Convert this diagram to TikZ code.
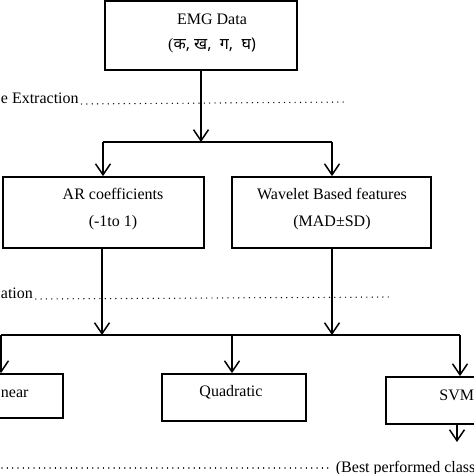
\documentclass[tikz,border=0pt]{standalone}
\usepackage{fontspec}
\setmainfont{Liberation Serif}
\newfontfamily\devfont[Script=Devanagari]{Noto Sans}
\usetikzlibrary{arrows.meta}
\begin{document}
\begin{tikzpicture}[x=1pt,y=-1pt,
  line width=1.8pt,
  box/.style={draw, line width=1.8pt, inner sep=0pt, rectangle},
  lbl/.style={font=\fontsize{16}{18}\selectfont, inner sep=0pt},
  arr/.style={-{Straight Barb[length=11pt,width=15pt,line width=1.5pt]}},
  dots/.style={line width=1.4pt, dash pattern=on 0.01pt off 5.33pt, line cap=round}]
\useasboundingbox (0,0) rectangle (474,474);
\clip (0,0) rectangle (474,474);

% boxes
\node[box, minimum width=192pt, minimum height=69pt] (emg) at (201,35.5) {};
\node[box, minimum width=201pt, minimum height=71pt] (ar) at (103.5,212.5) {};
\node[box, minimum width=199pt, minimum height=71pt] (wav) at (331.5,212.5) {};
\node[box, minimum width=143pt, minimum height=44pt] (lin) at (-8.5,396) {};
\node[box, minimum width=144pt, minimum height=47pt] (quad) at (234,397.5) {};
\node[box, minimum width=134pt, minimum height=47pt] (svm) at (453,400.5) {};

% texts
\node[lbl] (emgT) at (212,19) {EMG Data};
\node[lbl] (emgD) at (212,45) {(\devfont क, ख,\ \ ग,\ \ घ)};
\node[lbl] (arT) at (113,194) {AR coefficients};
\node[lbl] (arR) at (113,223) {(-1to 1)};
\node[lbl] (wavT) at (332,194) {Wavelet Based features};
\node[lbl] (wavR) at (332,223) {(MAD±SD)};
\node[lbl, anchor=base west] (linT) at (0,397) {near};
\node[lbl] (quadT) at (231,392) {Quadratic};
\node[lbl, anchor=base west] (svmT) at (438.5,400) {SVM};

% section labels with leader dots
\node[lbl, anchor=base west] (fe) at (0,103) {e Extraction};
\node[lbl, anchor=base west] (cl) at (0,298) {ation};
\node[lbl, anchor=base west] (best) at (335,472) {(Best performed class};
\coordinate (feE) at (348,102);
\coordinate (clE) at (390,297);
\coordinate (bS) at (2,468);
\coordinate (bE) at (330,468);
\draw[dots] ([xshift=2pt,yshift=-1pt]fe.base east) -- (feE);
\draw[dots] ([xshift=2pt,yshift=-1pt]cl.base east) -- (clE);
\draw[dots] (bS) -- (bE);

% first bar
\coordinate (b1L) at (103,142);
\coordinate (b1R) at (332,142);
\draw[arr] (emg.south) -- (emg.south |- b1L);
\draw (b1L) -- (b1R);
\draw[arr] (b1L) -- (b1L |- ar.north);
\draw[arr] (b1R) -- (b1R |- wav.north);

% second bar
\coordinate (b2L) at (1,335);
\coordinate (b2a) at (102,335);
\coordinate (b2b) at (332,335);
\coordinate (b2q) at (232,335);
\coordinate (b2R) at (460,335);
\draw[arr] (b2a |- ar.south) -- (b2a);
\draw[arr] (b2b |- wav.south) -- (b2b);
\draw (b2L) -- (b2R);
\draw[arr] (b2L) -- (b2L |- lin.north);
\draw[arr] (b2q) -- (b2q |- quad.north);
\draw[arr] (b2R) -- (b2R |- svm.north);

% output arrow
\coordinate (fin) at (457,442);
\draw[arr] (svm.south -| fin) -- (fin);
\end{tikzpicture}
\end{document}
